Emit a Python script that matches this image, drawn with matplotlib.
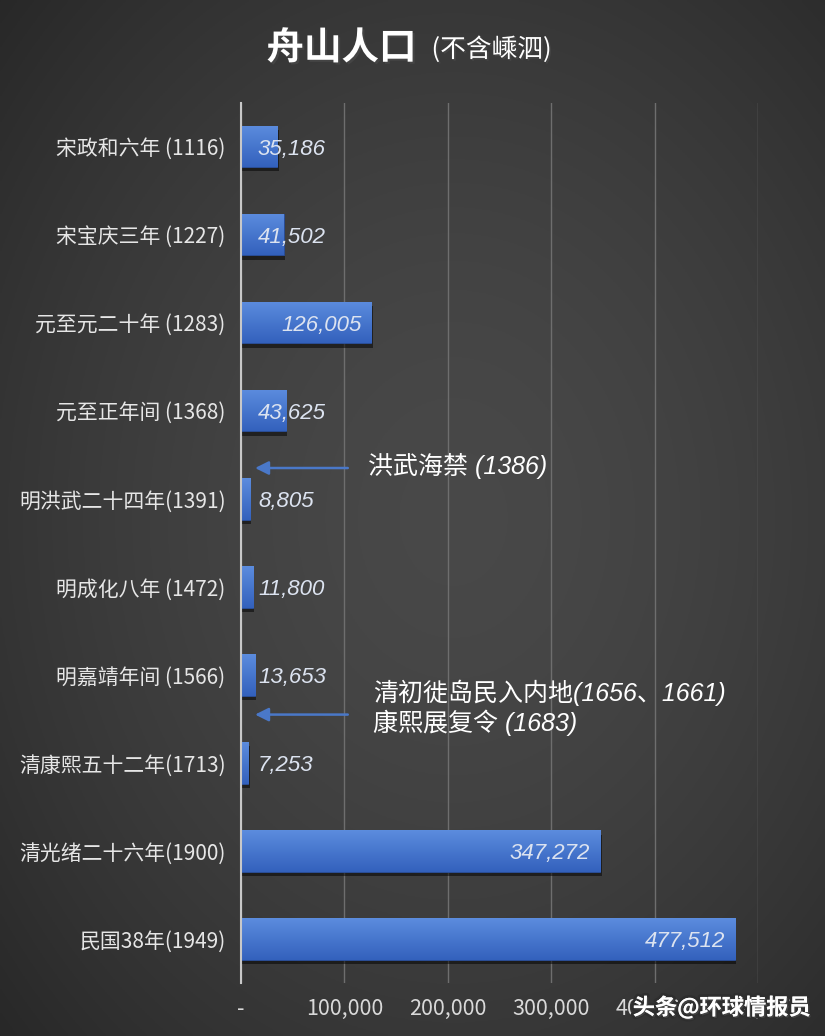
import numpy as np
import matplotlib
matplotlib.use("Agg")
import matplotlib.pyplot as plt
import matplotlib.patheffects as pe

plt.rcParams['font.family'] = ['Noto Sans CJK SC', 'DejaVu Sans']

# ── data ──────────────────────────────────────────────────────────────────
periods = ["宋政和六年 (1116)", "宋宝庆三年 (1227)", "元至元二十年 (1283)",
           "元至正年间 (1368)", "明洪武二十四年(1391)", "明成化八年 (1472)",
           "明嘉靖年间 (1566)", "清康熙五十二年(1713)", "清光绪二十六年(1900)",
           "民国38年(1949)"]
population = [35186, 41502, 126005, 43625, 8805, 11800, 13653, 7253, 347272, 477512]

x_ticks = [0, 100000, 200000, 300000, 400000, 500000]
x_ticklabels = ["-", "100,000", "200,000", "300,000", "400,000", "500,000"]

notes = [("洪武海禁 (1386)", 3.65),
         ("清初徙岛民入内地(1656、1661)\n康熙展复令 (1683)", 6.45)]

# ── figure ────────────────────────────────────────────────────────────────
fig = plt.figure(figsize=(8.25, 10.36), dpi=100)

# dark radial background
bg = fig.add_axes([0, 0, 1, 1], zorder=-10)
yy, xx = np.mgrid[0:1:400j, 0:1:330j]
r = np.sqrt(((xx - 0.55) / 0.75) ** 2 + ((yy - 0.5) / 0.75) ** 2)
shade = np.clip(0.285 - 0.13 * r ** 1.6, 0.12, 0.3)
bg.imshow(np.dstack([shade, shade, shade]), aspect="auto", extent=[0, 1, 0, 1])
bg.set_axis_off()

ax = fig.add_axes([0.292, 0.051, 0.627, 0.850])
ax.set_facecolor("none")

ypos = np.arange(len(periods))
bars = ax.barh(ypos, population, height=0.47, color="#3f6fcc",
               edgecolor="#2a4f9c", linewidth=0.6, zorder=3)
# vertical gradient inside each bar
grad = np.linspace(0, 1, 64).reshape(-1, 1)
top_c = np.array([0.36, 0.55, 0.87])
bot_c = np.array([0.20, 0.38, 0.74])
grad_img = top_c * (1 - grad[..., None]) + bot_c * grad[..., None]
grad_img = np.repeat(grad_img, 2, axis=1)
for b in bars:
    b.set_path_effects([pe.SimplePatchShadow(offset=(1, -3), shadow_rgbFace="black", alpha=0.5),
                        pe.Normal()])
    x0, y0, w, h = b.get_x(), b.get_y(), b.get_width(), b.get_height()
    im = ax.imshow(grad_img, extent=[x0, x0 + w, y0 + h, y0], aspect="auto",
                   zorder=3.5, interpolation="bilinear")
    im.set_clip_path(b)

ax.set_ylim(len(periods) - 0.5, -0.5)
ax.set_xlim(0, 500000)
ax.set_yticks(ypos)
ax.set_yticklabels(periods, color="#e6e6e6", fontsize=15)
ax.set_xticks(x_ticks)
ax.set_xticklabels(x_ticklabels, color="#d9d9d9", fontsize=15.5)
ax.tick_params(axis="both", length=0)
ax.tick_params(axis="y", pad=11)
ax.tick_params(axis="x", pad=11)

for s in ["top", "right", "bottom"]:
    ax.spines[s].set_visible(False)
ax.spines["left"].set_color("#c8c8c8")
ax.spines["left"].set_linewidth(1.5)
ax.spines["left"].set_zorder(4)

ax.grid(axis="x", color="#6e6e6e", linewidth=1.0, zorder=0)
ax.set_axisbelow(True)

# value labels
for y, v in zip(ypos, population):
    txt = f"{v:,}"
    if v < 50000:
        ax.text(16500, y, txt, ha="left", va="center_baseline", fontsize=16,
                style="italic", family="Liberation Sans", color="#dce3f0", zorder=5)
    else:
        ax.text(v - 9500, y, txt, ha="right", va="center_baseline", fontsize=16,
                style="italic", family="Liberation Sans", color="#dce3f0", zorder=5)

# annotation arrows
for label, y in notes:
    ax.annotate("", xy=(11000, y), xytext=(106000, y),
                arrowprops=dict(arrowstyle="-|>", color="#4a78c8", lw=1.8,
                                mutation_scale=20), zorder=5)
    two = "\n" in label
    ax.text(128000 if two else 123000, y - (0.08 if two else 0.02),
            label, ha="left", va="center", fontsize=18, style="italic",
            family=["Liberation Sans", "Noto Sans CJK SC"], color="white",
            linespacing=1.15, zorder=5)

# title
fig.text(0.323, 0.954, "舟山人口", fontsize=27, fontweight="bold", color="white",
         ha="left", va="center",
         path_effects=[pe.withSimplePatchShadow(offset=(1.5, -1.5), alpha=0.6)])
fig.text(0.523, 0.952, "(不含嵊泗)", fontsize=18.5, color="white", ha="left", va="center",
         path_effects=[pe.withSimplePatchShadow(offset=(1.2, -1.2), alpha=0.6)])

# watermark
fig.text(0.767, 0.027, "头条@环球情报员", fontsize=16, color="white", ha="left",
         va="center", fontweight="bold",
         path_effects=[pe.withStroke(linewidth=4, foreground="#2e2e2e"),
                       pe.withSimplePatchShadow(offset=(1, -1), alpha=0.7)])

fig.savefig("out.png", dpi=100)
